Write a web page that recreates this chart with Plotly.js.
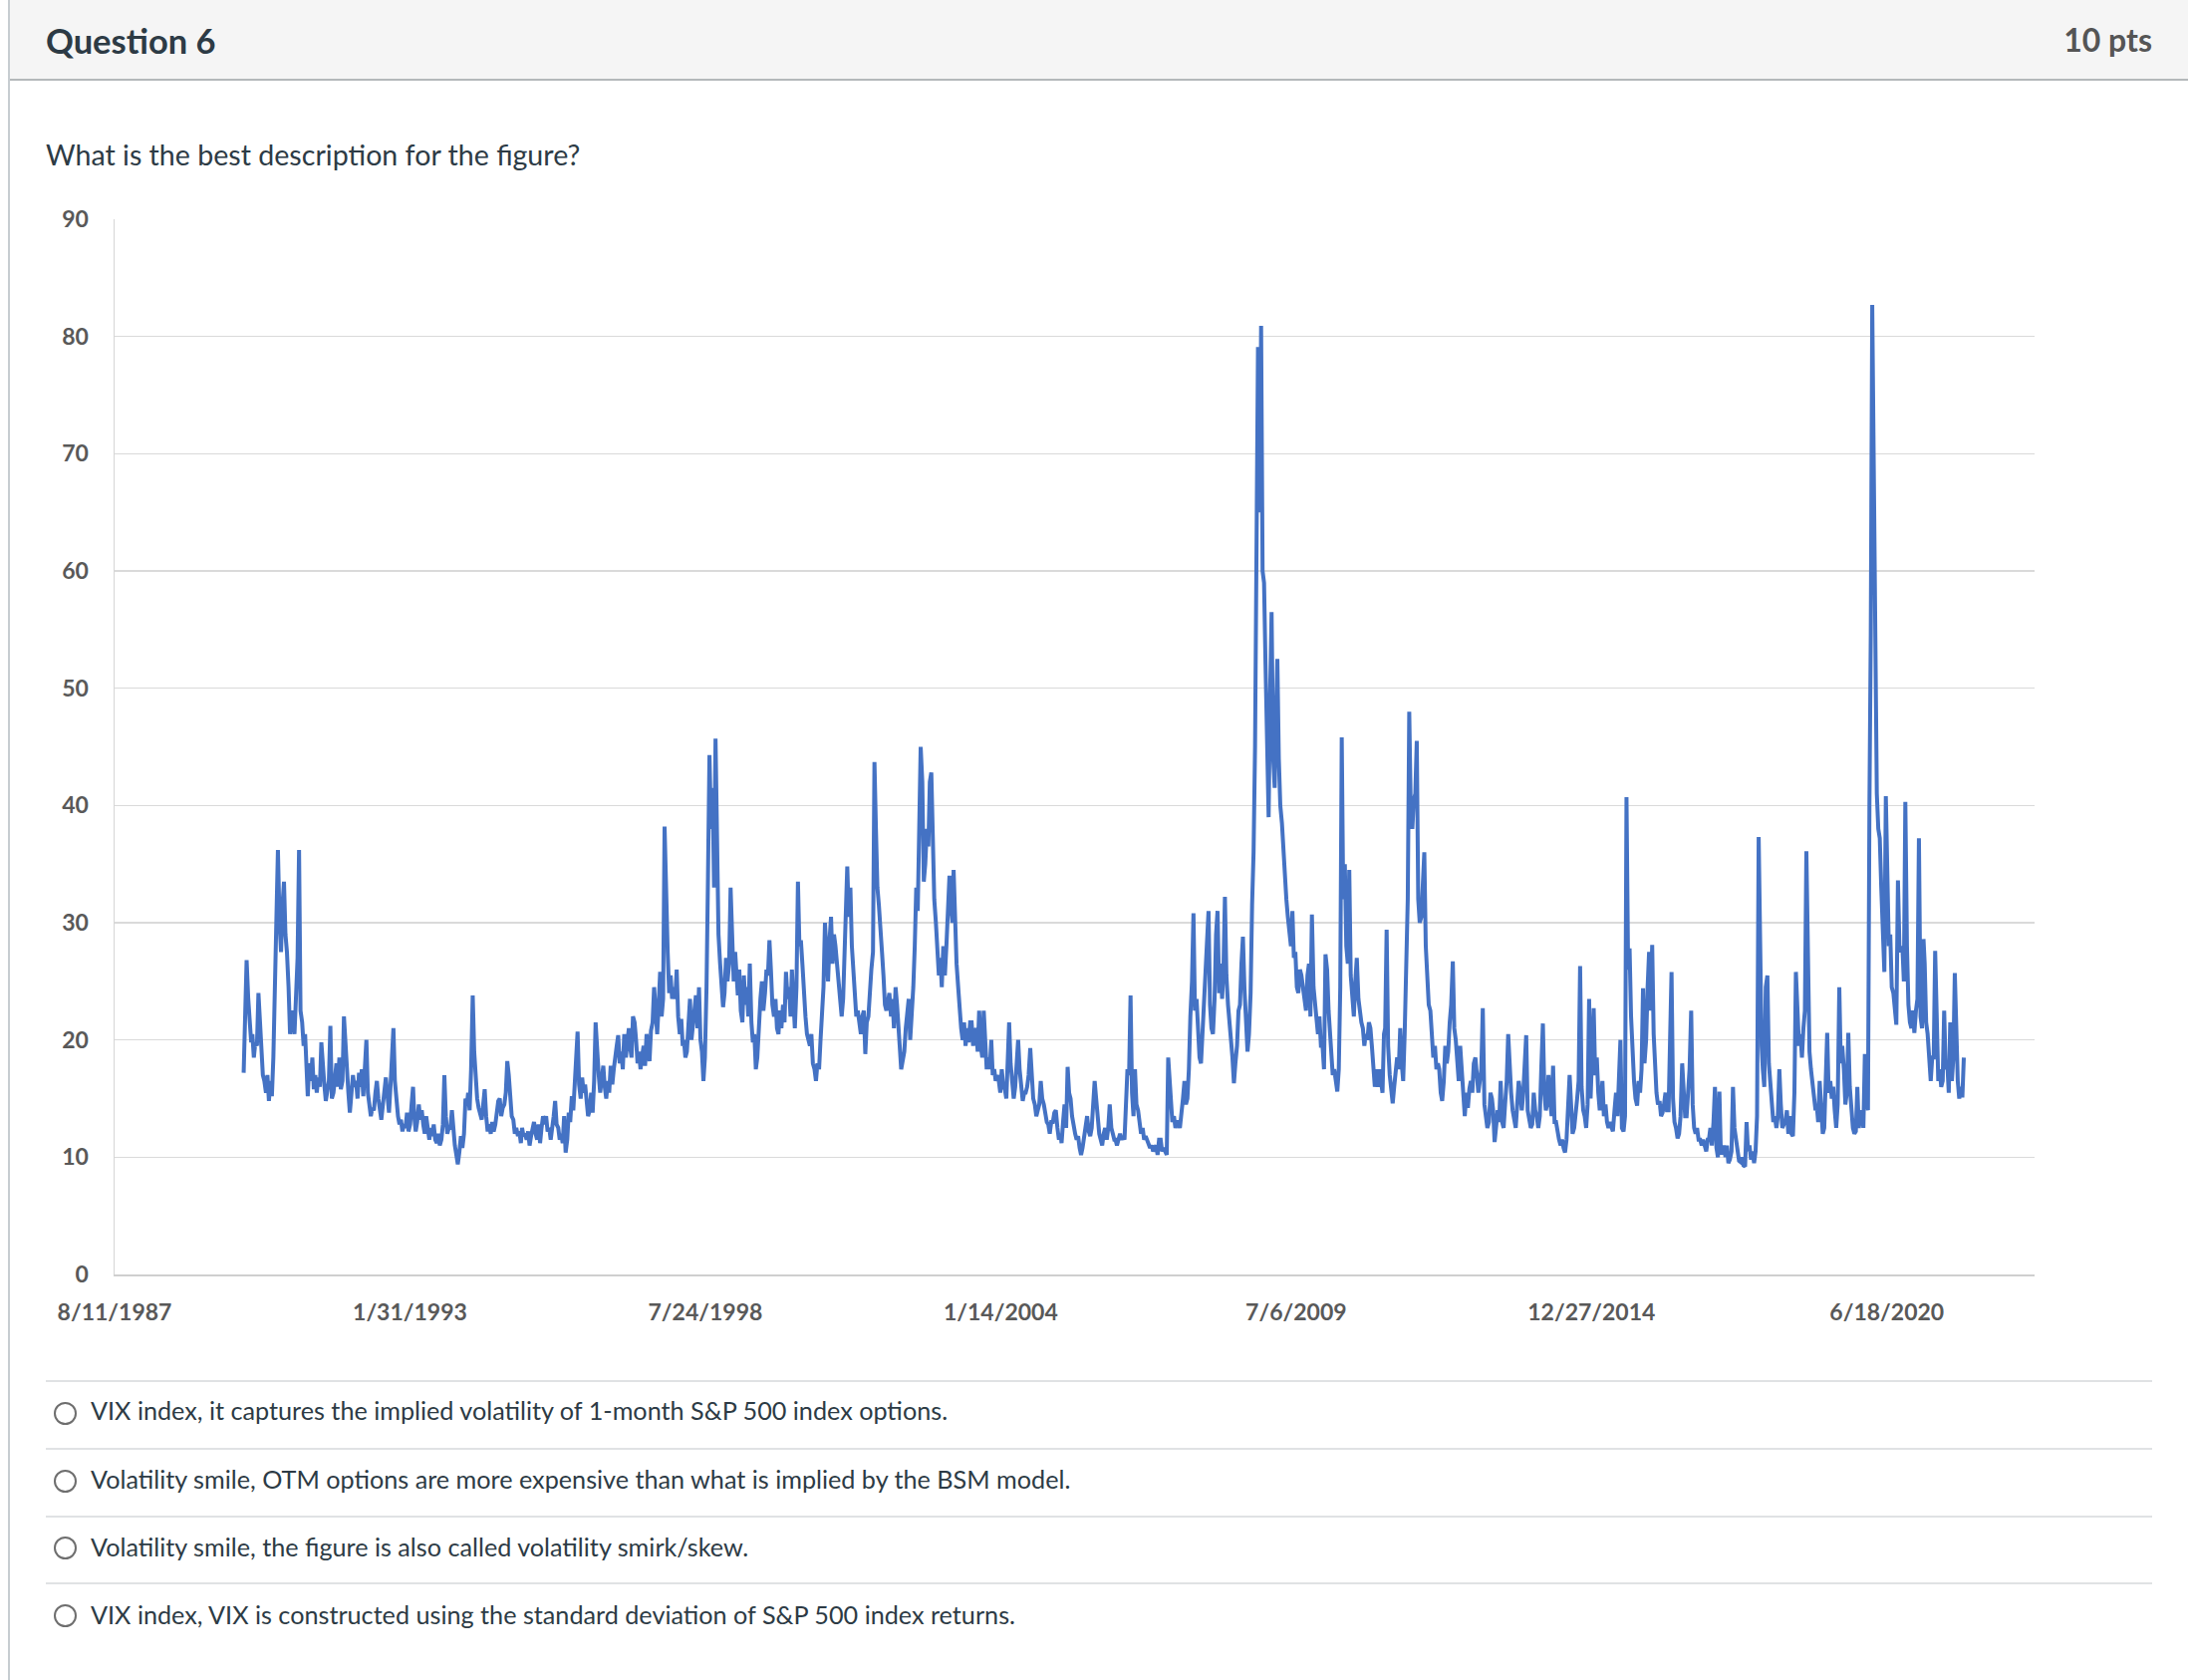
<!DOCTYPE html>
<html><head><meta charset="utf-8">
<script src="https://cdn.plot.ly/plotly-3.0.1.min.js"></script>
<style>
html,body{margin:0;padding:0;background:#fff;width:2196px;height:1686px;overflow:hidden;font-family:Lato,"Open Sans",sans-serif;color:#2d3b45;}
#lborder{position:absolute;left:8px;top:0;width:2px;height:1686px;background:#c7cdd1;}
#hdr{position:absolute;left:10px;top:0;width:2186px;height:79px;background:#f5f5f5;border-bottom:2px solid #b4b8ba;}
.t{position:absolute;white-space:nowrap;line-height:1.2;}
#qt{left:46px;top:20px;font-size:34.5px;font-weight:700;color:#2d3b45;}
#pts{right:36px;top:21px;font-size:32px;font-weight:700;color:#555;}
#qq{left:46px;top:138px;font-size:28.6px;color:#2d3b45;}
.sep{position:absolute;left:46px;width:2114px;height:2px;background:#e0e2e4;}
.opt{left:91px;font-size:25.2px;color:#2d3b45;}
.rad{position:absolute;left:54px;width:19px;height:19px;border:2px solid #6e6e6e;border-radius:50%;background:#fff;}
#chart{position:absolute;left:0;top:160px;width:2196px;height:1220px;}
</style></head>
<body>
<div id="lborder"></div>
<div id="hdr"></div>
<div class="t" id="qt">Question 6</div>
<div class="t" id="pts">10 pts</div>
<div class="t" id="qq">What is the best description for the figure?</div>
<div id="chart"></div>
<div id="opts"></div>
<script>
// ---- data (VIX level, three readings per month: ~1st, ~11th, ~21st) ----
const sampleDays = [1, 11, 21];
const v1990 = [17.2,21.0,26.8, 23.5,21.0,19.8, 20.5,18.5,19.8, 19.5,24.0,21.0, 18.5,17.0,16.5, 15.5,17.0,14.8, 16.5,15.2,18.5, 26.0,30.5,36.2, 30.0,27.5,31.5, 33.5,29.0,27.5, 24.5,20.5,21.5, 22.5,20.5,24.0];
const v1991 = [27.0,36.2,22.5, 21.5,19.5,20.5, 17.5,15.2,18.0, 16.5,18.5,15.8, 17.0,15.5,16.8, 16.0,19.8,17.5, 16.2,14.8,15.5, 16.5,21.2,15.0, 15.5,16.8,18.0, 16.0,18.5,15.8, 16.5,22.0,19.5, 17.5,15.5,13.8];
const v1992 = [15.5,17.0,16.0, 16.5,15.0,17.2, 16.0,17.5,15.2, 17.5,20.0,15.5, 14.5,13.5,14.2, 14.0,15.5,16.5, 15.0,13.8,13.2, 14.5,15.5,16.8, 15.2,13.8,16.0, 18.0,21.0,16.5, 14.8,13.5,12.8, 13.2,12.2,12.8];
const v1993 = [12.5,13.8,12.2, 12.8,14.5,16.0, 13.5,12.2,13.0, 14.5,13.2,14.0, 12.8,12.0,13.5, 12.2,11.5,12.5, 11.8,12.8,11.5, 11.2,12.0,11.0, 11.5,12.8,17.0, 13.5,12.0,12.5, 12.5,14.0,12.0, 11.0,10.2,9.4];
const v1994 = [10.5,11.8,10.8, 12.0,15.0,14.5, 15.5,14.0,17.5, 23.8,19.0,16.5, 15.0,14.2,13.5, 13.2,14.5,15.8, 13.5,12.2,12.8, 12.0,13.0,12.2, 12.8,14.0,14.8, 15.0,13.5,14.2, 14.5,15.5,18.2, 17.0,14.8,13.5];
const v1995 = [13.2,12.0,12.5, 11.8,12.2,11.2, 12.5,11.8,12.0, 11.5,12.2,11.0, 11.8,12.5,13.0, 12.0,11.5,12.8, 11.2,12.5,13.5, 12.8,13.5,12.2, 12.5,11.5,13.0, 13.5,14.8,12.8, 12.5,11.5,12.0, 11.2,13.5,10.4];
const v1996 = [11.5,13.8,13.0, 15.2,14.0,16.8, 18.5,20.7,16.2, 15.0,16.8,15.5, 16.2,14.5,13.5, 14.0,15.5,13.8, 16.5,21.5,18.5, 17.0,15.5,16.5, 17.8,16.0,15.0, 16.5,15.5,17.8, 16.2,17.5,18.8, 19.5,20.4,18.0];
const v1997 = [19.0,17.5,20.5, 18.5,19.8,21.0, 19.5,18.5,22.0, 21.5,20.0,18.0, 19.0,17.5,18.5, 19.5,17.8,20.5, 19.0,18.2,20.8, 21.5,24.5,22.0, 20.5,23.0,25.8, 22.0,23.5,38.2, 31.0,27.5,24.0, 25.5,23.5,24.5];
const v1998 = [23.5,26.0,22.0, 20.5,21.8,19.5, 20.0,18.5,19.0, 21.5,23.5,20.0, 21.0,22.5,23.8, 21.0,24.5,20.0, 19.0,16.5,18.5, 24.5,34.0,44.3, 38.0,41.5,33.0, 45.7,37.5,29.0, 26.5,24.5,22.8, 24.0,27.0,25.0];
const v1999 = [26.5,33.0,28.0, 25.0,27.5,24.5, 23.8,26.0,22.5, 21.5,25.5,23.0, 24.5,22.0,26.5, 21.5,19.8,20.5, 17.5,18.5,22.0, 23.5,25.0,22.5, 24.0,26.0,25.5, 28.5,26.0,23.0, 22.0,23.5,21.0, 20.5,22.5,21.0];
const v2000 = [23.0,21.5,25.8, 23.5,24.5,22.0, 26.0,23.0,21.0, 24.5,33.5,28.0, 28.5,26.5,24.0, 22.0,20.5,20.0, 19.5,20.5,18.0, 17.5,16.5,18.0, 17.5,20.0,22.5, 24.5,30.0,27.5, 25.0,28.5,30.5, 26.5,29.0,28.0];
const v2001 = [26.5,25.0,23.5, 22.0,23.5,27.0, 29.5,34.8,30.5, 33.0,28.0,25.5, 23.5,22.0,22.5, 21.0,20.5,22.0, 22.5,18.8,21.5, 22.0,24.5,26.0, 27.5,43.7,38.0, 33.0,31.5,29.0, 27.5,25.5,23.0, 22.5,23.5,24.0];
const v2002 = [22.0,23.5,21.0, 24.5,23.0,21.5, 19.5,17.5,18.5, 19.0,21.0,22.5, 23.5,20.0,22.0, 24.5,28.0,33.0, 31.0,38.5,45.0, 42.0,33.5,35.0, 38.0,36.5,42.0, 42.8,37.0,32.0, 30.0,27.5,25.5, 27.0,24.5,28.0];
const v2003 = [25.5,28.0,32.0, 34.0,31.5,30.0, 34.5,29.0,26.5, 24.5,22.5,21.0, 20.0,21.5,19.5, 21.0,19.8,21.5, 21.5,19.5,20.5, 21.0,19.0,22.5, 19.5,18.5,22.5, 19.5,17.5,18.5, 17.5,20.0,17.0, 17.5,16.5,17.0];
const v2004 = [16.5,15.5,17.5, 16.0,15.8,15.0, 17.5,21.5,18.0, 16.5,15.0,16.0, 19.0,20.0,17.5, 15.5,14.8,15.5, 15.5,16.0,17.0, 19.3,16.5,15.0, 14.5,13.5,14.0, 14.5,16.5,15.0, 14.5,13.5,13.0, 12.8,12.0,13.0];
const v2005 = [13.0,13.8,14.0, 12.5,11.5,12.0, 11.2,13.0,14.5, 12.5,17.7,15.5, 15.0,13.5,12.5, 12.0,11.5,11.8, 10.8,10.2,10.8, 11.8,12.5,13.5, 12.2,11.8,12.5, 15.5,16.5,15.0, 13.0,12.0,11.5, 11.0,12.0,12.5];
const v2006 = [11.5,12.5,14.5, 12.5,12.0,11.5, 11.5,11.0,11.5, 12.0,11.5,11.8, 11.5,14.5,17.5, 17.0,23.8,15.5, 13.5,17.5,14.5, 14.0,12.5,12.0, 12.5,11.5,11.8, 11.5,11.0,10.8, 11.0,10.5,10.8, 11.0,10.2,11.5];
const v2007 = [11.5,10.5,10.8, 10.5,10.2,18.5, 17.0,15.0,13.0, 13.5,12.5,13.0, 13.0,12.5,13.5, 15.0,16.5,14.5, 15.0,17.5,22.0, 25.0,30.8,22.5, 23.5,20.0,18.5, 18.0,20.5,22.0, 24.5,28.5,31.0, 23.0,21.0,20.5];
const v2008 = [23.5,29.0,31.0, 24.0,26.5,23.5, 26.0,32.2,25.5, 23.0,21.0,20.0, 18.5,16.3,18.0, 19.5,22.5,23.0, 26.5,28.8,24.5, 21.0,19.0,20.5, 24.0,31.5,36.0, 45.0,69.9,79.1, 65.0,80.9,60.0, 59.0,52.0,43.0];
const v2009 = [39.0,49.5,56.5, 44.0,41.5,48.0, 52.5,44.0,40.0, 38.5,36.0,34.0, 32.0,30.5,29.5, 28.0,31.0,27.0, 27.5,24.5,24.0, 26.0,25.5,24.5, 24.0,22.5,25.5, 26.5,22.0,30.7, 24.5,23.0,21.5, 20.5,22.0,19.5];
const v2010 = [19.5,17.5,27.3, 26.0,22.5,20.0, 18.5,17.0,17.5, 16.5,15.6,17.5, 24.5,45.8,32.0, 35.0,28.0,26.5, 34.5,25.5,23.5, 22.0,25.0,27.0, 23.5,22.0,21.5, 21.0,19.5,20.5, 20.0,21.5,21.0, 19.5,17.5,16.0];
const v2011 = [17.5,16.0,17.5, 16.5,15.5,20.5, 21.0,29.4,19.5, 17.0,15.5,14.6, 16.0,17.5,18.5, 17.5,21.0,18.0, 16.5,20.5,25.0, 32.0,48.0,40.0, 38.0,40.5,41.0, 45.5,32.0,30.0, 30.5,33.5,36.0, 28.0,24.5,23.0];
const v2012 = [22.5,20.5,18.5, 19.5,17.5,18.0, 17.5,15.5,14.8, 16.5,19.5,18.0, 19.0,21.5,23.0, 26.7,21.0,20.0, 18.0,16.5,19.5, 17.0,15.0,13.5, 15.5,14.2,15.8, 16.5,15.5,18.0, 18.5,17.0,15.5, 16.5,17.5,22.7];
const v2013 = [14.5,13.5,12.5, 13.0,15.5,15.0, 14.0,11.3,13.0, 14.0,13.0,16.5, 13.0,12.5,14.5, 16.5,20.5,17.5, 15.5,14.0,13.0, 12.5,14.5,16.5, 15.5,14.0,15.5, 18.5,20.4,14.0, 13.0,12.5,12.8, 15.5,14.0,13.5];
const v2014 = [12.5,13.5,17.5, 21.4,15.5,14.0, 14.5,17.0,15.0, 13.5,17.8,13.0, 13.0,12.0,11.5, 11.0,11.5,10.8, 10.4,11.5,14.0, 17.0,14.5,12.0, 12.5,13.5,15.0, 16.5,26.3,16.0, 14.0,13.5,12.5, 14.5,23.5,15.0];
const v2015 = [19.5,22.7,17.0, 18.5,15.5,14.0, 15.0,16.5,13.5, 14.5,13.0,12.5, 13.0,12.5,12.2, 14.0,15.5,13.5, 18.0,20.0,12.5, 12.2,13.5,40.7, 26.0,27.8,22.0, 18.5,16.5,15.0, 14.4,16.5,15.5, 17.5,24.4,18.0];
const v2016 = [20.0,24.5,27.5, 22.5,28.1,20.5, 17.5,15.5,14.5, 14.8,13.5,13.8, 14.5,15.5,14.0, 14.0,20.0,25.8, 15.0,13.0,12.5, 11.6,12.0,13.5, 18.0,15.5,13.5, 13.5,15.5,17.5, 22.5,14.5,12.5, 12.0,12.5,11.5];
const v2017 = [11.5,11.0,11.5, 11.0,10.5,11.5, 11.5,12.5,11.0, 13.0,16.0,10.8, 10.0,15.6,10.3, 10.5,11.0,10.0, 11.0,9.5,9.8, 10.5,16.0,12.5, 11.5,10.5,9.7, 9.6,10.0,9.3, 9.2,13.0,10.5, 11.0,9.8,10.5];
const v2018 = [9.5,10.5,13.5, 37.3,25.0,19.5, 17.5,16.0,24.5, 25.5,18.0,16.5, 14.5,13.0,13.5, 12.5,13.5,17.5, 14.5,12.5,12.8, 13.0,14.0,12.0, 13.5,12.0,11.8, 15.5,25.8,21.5, 19.5,20.5,18.5, 21.0,22.5,36.1];
const v2019 = [25.5,19.0,17.5, 16.0,14.5,14.0, 14.5,13.0,16.5, 13.5,12.0,12.5, 16.0,20.6,15.5, 16.5,15.0,16.0, 14.0,12.5,14.5, 24.5,18.0,19.5, 17.5,14.5,15.5, 20.6,16.0,14.0, 12.5,12.0,12.2, 16.0,12.5,13.5];
const v2020 = [14.0,12.5,18.8, 15.5,14.0,40.1, 54.5,82.7,66.0, 57.0,41.0,38.0, 37.2,33.0,28.0, 25.8,40.8,33.5, 28.0,29.0,24.5, 24.0,22.5,21.3, 33.6,28.0,27.5, 28.0,25.0,40.3, 28.0,23.0,21.5, 21.0,22.5,20.6];
const v2021 = [22.5,23.5,37.2, 22.0,21.0,28.6, 26.5,21.5,20.5, 17.5,16.5,18.5, 18.5,27.6,20.0, 16.5,17.5,16.0, 16.5,22.5,17.5, 18.0,15.5,21.5, 16.5,18.5,25.7, 21.0,16.5,15.0, 16.0,15.1,18.5];
const vixYears = [1990,1991,1992,1993,1994,1995,1996,1997,1998,1999,2000,2001,2002,2003,2004,2005,2006,2007,2008,2009,2010,2011,2012,2013,2014,2015,2016,2017,2018,2019,2020,2021];
const vixRows = [v1990,v1991,v1992,v1993,v1994,v1995,v1996,v1997,v1998,v1999,v2000,v2001,v2002,v2003,v2004,v2005,v2006,v2007,v2008,v2009,v2010,v2011,v2012,v2013,v2014,v2015,v2016,v2017,v2018,v2019,v2020,v2021];

const tickDates  = ['1987-08-11','1993-01-31','1998-07-24','2004-01-14','2009-07-06','2014-12-27','2020-06-18'];
const tickLabels = ['8/11/1987','1/31/1993','7/24/1998','1/14/2004','7/6/2009','12/27/2014','6/18/2020'];
const yTicks = [0,10,20,30,40,50,60,70,80,90];

const options = [
  'VIX index, it captures the implied volatility of 1-month S&P 500 index options.',
  'Volatility smile, OTM options are more expensive than what is implied by the BSM model.',
  'Volatility smile, the figure is also called volatility smirk/skew.',
  'VIX index, VIX is constructed using the standard deviation of S&P 500 index returns.'
];

// ---- build series ----
const xs = [], ys = [];
vixYears.forEach((yr, i) => {
  const row = vixRows[i];
  row.forEach((v, k) => {
    const m = Math.floor(k / sampleDays.length) + 1;
    const d = sampleDays[k % sampleDays.length];
    xs.push(yr + '-' + String(m).padStart(2,'0') + '-' + String(d).padStart(2,'0'));
    ys.push(v);
  });
});

const tickFont = {family:'Lato, "Open Sans", sans-serif', size:23, color:'#595959', weight:700};
Plotly.newPlot('chart', [{
  type:'scatter', mode:'lines', x:xs, y:ys,
  line:{color:'#4472C4', width:4}, hoverinfo:'skip', showlegend:false
}], {
  width:2196, height:1220,
  margin:{l:115, r:154, t:60, b:101},
  paper_bgcolor:'rgba(0,0,0,0)', plot_bgcolor:'#fff',
  xaxis:{type:'date', range:['1987-08-11','2023-03-15'], tickvals:tickDates, ticktext:tickLabels,
         showgrid:false, zeroline:false, showline:true, linecolor:'#cfcfcf', linewidth:2,
         ticks:'outside', ticklen:16, tickcolor:'rgba(0,0,0,0)', tickfont:tickFont},
  yaxis:{range:[0,90], tickvals:yTicks, showgrid:true, gridcolor:'#dadada', gridwidth:1.5,
         zeroline:false, showline:true, linecolor:'#d6d6d6', linewidth:1.5,
         ticks:'outside', ticklen:20, tickcolor:'rgba(0,0,0,0)', tickfont:tickFont}
}, {staticPlot:true, displayModeBar:false});

// ---- answer options ----
const sepY = [1385, 1453, 1521, 1588];
const optTop = [1400, 1469, 1537, 1605];
const radY = [1418, 1486, 1553, 1621];
const box = document.getElementById('opts');
options.forEach((txt, i) => {
  const s = document.createElement('div'); s.className='sep'; s.style.top = sepY[i]+'px'; box.appendChild(s);
  const r = document.createElement('div'); r.className='rad'; r.style.top = (radY[i]-11)+'px'; box.appendChild(r);
  const t = document.createElement('div'); t.className='t opt'; t.style.top = optTop[i]+'px'; t.textContent = txt; box.appendChild(t);
});
</script>
</body></html>
